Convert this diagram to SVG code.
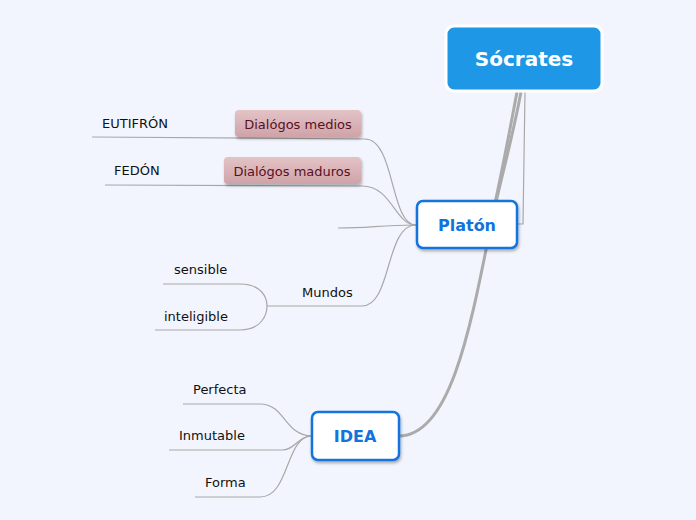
<svg xmlns="http://www.w3.org/2000/svg" width="696" height="520" viewBox="0 0 696 520">
<defs>
<style>
text{font-family:"DejaVu Sans","Liberation Sans",sans-serif;font-size:13px;fill:#111}
.t{fill:none;stroke:#a8a8a8;stroke-width:1.2}
.k{fill:none;stroke:#ababab;stroke-width:3}
.pt{fill:#5a1020}
</style>
<linearGradient id="pg" x1="0" y1="0" x2="0" y2="1"><stop offset="0" stop-color="#e3c3c6"/><stop offset="1" stop-color="#cfa3a8"/></linearGradient>
<filter id="sh" x="-20%" y="-20%" width="140%" height="150%"><feDropShadow dx="1" dy="2" stdDeviation="1.5" flood-opacity="0.3"/></filter>
</defs>
<rect width="696" height="520" fill="#f2f5fd"/>
<g id="connectors">
<path class="k" d="M521 92 C510 150 500 180 490 230 C470 330 450 436 399 436"/>
<path class="k" d="M517 92 C508 140 500 180 495 203" stroke-width="2"/>
<path class="t" d="M525 92 L523 224 L517 224" stroke-width="2"/>
<path class="t" d="M92 137 L365 139 C395 139 390 225 416 225"/>
<path class="t" d="M105 185 L362 186 C392 186 395 225 416 225"/>
<path class="t" d="M338 228 C370 228 380 225 416 225"/>
<path class="t" d="M267 306 L362 306 C392 306 385 225 416 225"/>
<path class="t" d="M163 284 L240 284 C262 284 267 298 267 306 C267 314 262 330 240 330 L155 330"/>
<path class="t" d="M183 404 L260 404 C285 404 285 436 312 436"/>
<path class="t" d="M169 450 L282 450 C295 450 298 436 312 436"/>
<path class="t" d="M195 497 L260 497 C290 497 285 436 312 436"/>
</g>
<g id="socrates"><rect x="446" y="26" width="156" height="65" rx="8" fill="#1e98e6" stroke="#fff" stroke-width="3"/><text x="524" y="66" text-anchor="middle" style="font-size:20px;font-weight:bold;fill:#fff">Sócrates</text></g>
<g id="platon"><rect x="417" y="201" width="100" height="47" rx="6" fill="#fff" stroke="#1273de" stroke-width="2.5" filter="url(#sh)"/><text x="467" y="231" text-anchor="middle" style="font-size:16px;font-weight:bold;fill:#1273de">Platón</text></g>
<g id="idea"><rect x="312" y="412" width="87" height="48" rx="6" fill="#fff" stroke="#1273de" stroke-width="2.5" filter="url(#sh)"/><text x="355" y="442" text-anchor="middle" style="font-size:16px;font-weight:bold;fill:#1273de">IDEA</text></g>
<g id="medios"><rect x="235" y="110" width="126" height="27" rx="4" fill="url(#pg)" filter="url(#sh)"/><text x="298" y="129" text-anchor="middle" class="pt">Dialógos medios</text></g>
<g id="maduros"><rect x="224" y="157" width="137" height="27" rx="4" fill="url(#pg)" filter="url(#sh)"/><text x="292" y="176" text-anchor="middle" class="pt">Dialógos maduros</text></g>
<g id="eutifron"><text x="102" y="128">EUTIFRÓN</text></g>
<g id="fedon"><text x="114" y="175">FEDÓN</text></g>
<g id="mundos"><text x="302" y="297">Mundos</text></g>
<g id="sensible"><text x="174" y="274">sensible</text></g>
<g id="inteligible"><text x="164" y="321">inteligible</text></g>
<g id="perfecta"><text x="193" y="394">Perfecta</text></g>
<g id="inmutable"><text x="179" y="440">Inmutable</text></g>
<g id="forma"><text x="205" y="487">Forma</text></g>
</svg>
